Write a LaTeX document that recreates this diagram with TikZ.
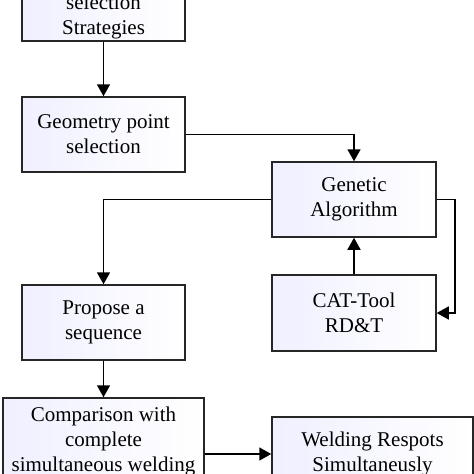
\documentclass[tikz,border=0pt]{standalone}
\usepackage{fontspec}
\setmainfont{Liberation Serif}
\usetikzlibrary{arrows.meta}
\begin{document}
\begin{tikzpicture}[x=1pt,y=-1pt,
  box/.style={draw=black!85, line width=1.5pt, rectangle, inner sep=0pt,
    left color=blue!6!white, right color=white},
  txt/.style={align=center, inner sep=0pt, font=\fontsize{21}{25}\selectfont},
  conn/.style={line width=1.6pt, draw=black},
  arr/.style={conn, -{Triangle[length=12pt,width=13pt]}}]
\useasboundingbox (0,0) rectangle (474,474);
% boxes
\node[box, minimum width=163, minimum height=75] (s) at (103.5,3.5) {};
\node[txt] (st) at (103.5,16.5) {selection\\Strategies};
\node[box, minimum width=163, minimum height=75] (g) at (103.5,134.5) {};
\node[txt] (gt) at (g.center) {Geometry point\\selection};
\node[box, minimum width=164, minimum height=75] (gen) at (354,199.5) {};
\node[txt] (gent) at (gen.center) {Genetic\\Algorithm};
\node[box, minimum width=164, minimum height=76] (cat) at (354,313) {};
\node[txt] (catt) at (cat.center) {CAT-Tool\\RD\&T};
\node[box, minimum width=163, minimum height=75] (p) at (103.5,322.5) {};
\node[txt] (pt) at (p.center) {Propose a\\sequence};
\node[box, minimum width=201, minimum height=112] (c) at (103.5,454) {};
\node[txt] (ct) at (103.5,441.5) {Comparison with\\complete\\simultaneous welding};
\node[box, minimum width=201, minimum height=74] (w) at (372.5,454) {};
\node[txt] (wt) at (w.center) {Welding Respots\\Simultaneusly};
% connectors
\coordinate (r) at (455,199.5);
\draw[arr] (s.south) -- (g.north);
\draw[arr] (g.east) -| (gen.north);
\draw[arr] (gen.west) -| (p.north);
\draw[arr] (gen.east) -- (r) |- (cat.east);
\draw[arr] (cat.north) -- (gen.south);
\draw[arr] (p.south) -- (c.north);
\draw[arr] (c.east) -- (w.west);
\end{tikzpicture}
\end{document}
